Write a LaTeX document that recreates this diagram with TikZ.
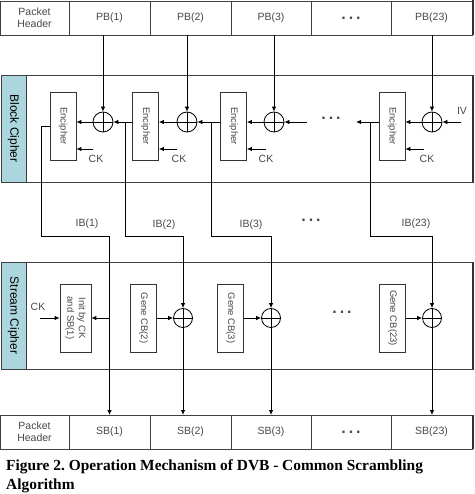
\documentclass[tikz,border=0pt]{standalone}
\usepackage{fontspec}
\setmainfont{Liberation Sans}
\newfontfamily\capfont{Liberation Serif}
\usetikzlibrary{arrows.meta,positioning}
\definecolor{bandteal}{RGB}{172,214,222}
\definecolor{txtgray}{RGB}{72,72,72}
\newcommand{\tridots}{{\bfseries\fontsize{16}{16}\selectfont .\hspace{3pt}.\hspace{3pt}.}}
\frenchspacing
\begin{document}
\begin{tikzpicture}[x=1pt, y=-1pt,
        cell/.style={draw=black!75, line width=0.9pt, minimum height=34pt, inner sep=0pt, outer sep=0pt,
            font=\fontsize{10.5}{12}\selectfont, text=txtgray, align=center},
        unit/.style={draw=black!80, line width=0.7pt, fill=white, minimum width=26pt, minimum height=68pt,
            inner sep=0pt, font=\fontsize{9.5}{11.5}\selectfont, text=txtgray},
        xor/.style={circle, draw, line width=0.8pt, minimum size=20pt, inner sep=0pt,
            path picture={\draw[line width=0.8pt] (path picture bounding box.north) -- (path picture bounding box.south)
                (path picture bounding box.west) -- (path picture bounding box.east);}},
        lbl/.style={font=\fontsize{10.5}{12}\selectfont, text=txtgray, inner sep=0pt},
        band/.style={draw=black!75, line width=0.9pt},
        bandlbl/.style={draw=black!75, line width=0.9pt, fill=bandteal, minimum width=25pt, minimum height=107pt,
            inner sep=0pt, font=\fontsize{12}{14}\selectfont},
        arr/.style={-{Latex[length=5pt,width=4.5pt]}, line width=0.8pt},
        ln/.style={line width=0.8pt}
    ]
        \useasboundingbox (0,0) rectangle (474,494);

        % Packet row (top)
        \node[cell, minimum width=69pt] (PH) at (34.5,18) {Packet\\Header};
        \node[cell, minimum width=81pt] (PB1) at (109.5,18) {PB(1)};
        \node[cell, minimum width=81pt] (PB2) at (190.5,18) {PB(2)};
        \node[cell, minimum width=80pt] (PB3) at (271,18) {PB(3)};
        \node[cell, minimum width=80pt] (PBd) at (351,18) {\tridots};
        \node[cell, minimum width=81pt] (PB23) at (431.5,18) {PB(23)};

        % Bands
        \draw[band] (26,75) rectangle (473,182);
        \node[bandlbl] (BC) at (13.5,128.5) {\rotatebox{-90}{Block Cipher}};
        \draw[band] (26,262) rectangle (473,369);
        \node[bandlbl] (SC) at (13.5,315.5) {\rotatebox{-90}{Stream Cipher}};

        % Block cipher units
        \node[unit] (E1) at (63,126) {\rotatebox{-90}{Encipher}};
        \node[unit] (E2) at (145.5,126) {\rotatebox{-90}{Encipher}};
        \node[unit] (E3) at (233.5,126) {\rotatebox{-90}{Encipher}};
        \node[unit] (E4) at (392,126) {\rotatebox{-90}{Encipher}};
        \node[xor] (X1) at (103,122) {};
        \node[xor] (X2) at (187,122) {};
        \node[xor] (X3) at (274,122) {};
        \node[xor] (X4) at (432,122) {};

        % PB into xor
        \draw[arr] (X1 |- PB1.south) -- (X1.north);
        \draw[arr] (X2 |- PB2.south) -- (X2.north);
        \draw[arr] (X3 |- PB3.south) -- (X3.north);
        \draw[arr] (X4 |- PB23.south) -- (X4.north);

        % Chaining
        \coordinate (T2) at (125,122);
        \coordinate (T3) at (211,122);
        \coordinate (T4) at (370,122);
        \coordinate (D3) at (307,122);
        \coordinate (D4) at (356,122);
        \coordinate (IVin) at (461,122);
        \draw[arr] (X1.west) -- (E1.east |- X1.west);
        \draw[arr] (E2.west |- X1.east) -- (X1.east);
        \draw[arr] (X2.west) -- (E2.east |- X2.west);
        \draw[arr] (E3.west |- X2.east) -- (X2.east);
        \draw[arr] (X3.west) -- (E3.east |- X3.west);
        \draw[arr] (D3) -- (X3.east);
        \node[lbl] (BD) at (331,118) {\tridots};
        \draw[arr] (E4.west |- D4) -- (D4);
        \draw[arr] (X4.west) -- (E4.east |- X4.west);
        \draw[arr] (IVin) -- (X4.east);
        \node[lbl] (IV) at (462,111) {IV};

        % CK into enciphers
        \coordinate (K1) at (93,149);
        \coordinate (K2) at (177,149);
        \coordinate (K3) at (266,149);
        \coordinate (K4) at (424,149);
        \draw[arr] (K1) -- (E1.east |- K1);
        \draw[arr] (K2) -- (E2.east |- K2);
        \draw[arr] (K3) -- (E3.east |- K3);
        \draw[arr] (K4) -- (E4.east |- K4);
        \node[lbl] (CK1) at (96,159) {CK};
        \node[lbl] (CK2) at (179,159) {CK};
        \node[lbl] (CK3) at (266,159) {CK};
        \node[lbl] (CK4) at (427,159) {CK};

        % Stream cipher units
        \node[unit, minimum width=31pt] (Init) at (75.5,318) {\rotatebox{-90}{\begin{tabular}{@{}c@{}}Init by CK\\and SB(1)\end{tabular}}};
        \node[unit] (G2) at (143.5,318) {\rotatebox{-90}{Gene CB(2)}};
        \node[unit] (G3) at (230.5,318) {\rotatebox{-90}{Gene CB(3)}};
        \node[unit] (G23) at (392.5,318) {\rotatebox{-90}{Gene CB(23)}};
        \node[xor, minimum size=19pt] (S2) at (183,318) {};
        \node[xor, minimum size=19pt] (S3) at (271,318) {};
        \node[xor, minimum size=19pt] (S23) at (432,318) {};
        \node[lbl] (SD) at (342,312) {\tridots};

        % Scrambled row (bottom)
        \node[cell, minimum width=69pt] (PH2) at (34.5,432) {Packet\\Header};
        \node[cell, minimum width=81pt] (SB1) at (109.5,432) {SB(1)};
        \node[cell, minimum width=81pt] (SB2) at (190.5,432) {SB(2)};
        \node[cell, minimum width=80pt] (SB3) at (271,432) {SB(3)};
        \node[cell, minimum width=80pt] (SBd) at (351,432) {\tridots};
        \node[cell, minimum width=81pt] (SB23) at (431.5,432) {SB(23)};

        % Intermediate blocks
        \draw[arr] (E1.west) -| (41,236) -| (SB1.north);
        \draw[arr] (T2) -- (125,236) -| (S2.north);
        \draw[arr] (T3) -- (211,236) -| (S3.north);
        \draw[arr] (T4) -- (370,236) -| (S23.north);
        \node[lbl] (IB1) at (87,224) {IB(1)};
        \node[lbl] (IB2) at (164,225) {IB(2)};
        \node[lbl] (IB3) at (251,225) {IB(3)};
        \node[lbl] (IBd) at (311,220) {\tridots};
        \node[lbl] (IB23) at (416,224) {IB(23)};

        % Stream side
        \coordinate (J1) at (SB1.north |- Init.east);
        \coordinate (K0) at (40,318);
        \draw[arr] (J1) -- (Init.east);
        \draw[arr] (K0) -- (Init.west);
        \node[lbl] (CK0) at (38,307) {CK};
        \draw[arr] (G2.east) -- (S2.west);
        \draw[arr] (G3.east) -- (S3.west);
        \draw[arr] (G23.east) -- (S23.west);
        \draw[arr] (S2.south) -- (S2 |- SB2.north);
        \draw[arr] (S3.south) -- (S3 |- SB3.north);
        \draw[arr] (S23.south) -- (S23 |- SB23.north);

        % Right edge
        \draw[line width=2pt, black!80] (473,0) -- (473,35) (473,75) -- (473,182)
            (473,262) -- (473,369) (473,415) -- (473,449);

        % Caption
        \node[anchor=base west, inner sep=0pt, font=\capfont\bfseries\fontsize{15.4}{19}\selectfont] (Cap1) at (6,470)
            {Figure 2. Operation Mechanism of DVB - Common Scrambling};
        \node[anchor=base west, inner sep=0pt, font=\capfont\bfseries\fontsize{15.4}{19}\selectfont] (Cap2) at (6,489)
            {Algorithm};
    \end{tikzpicture}
\end{document}
